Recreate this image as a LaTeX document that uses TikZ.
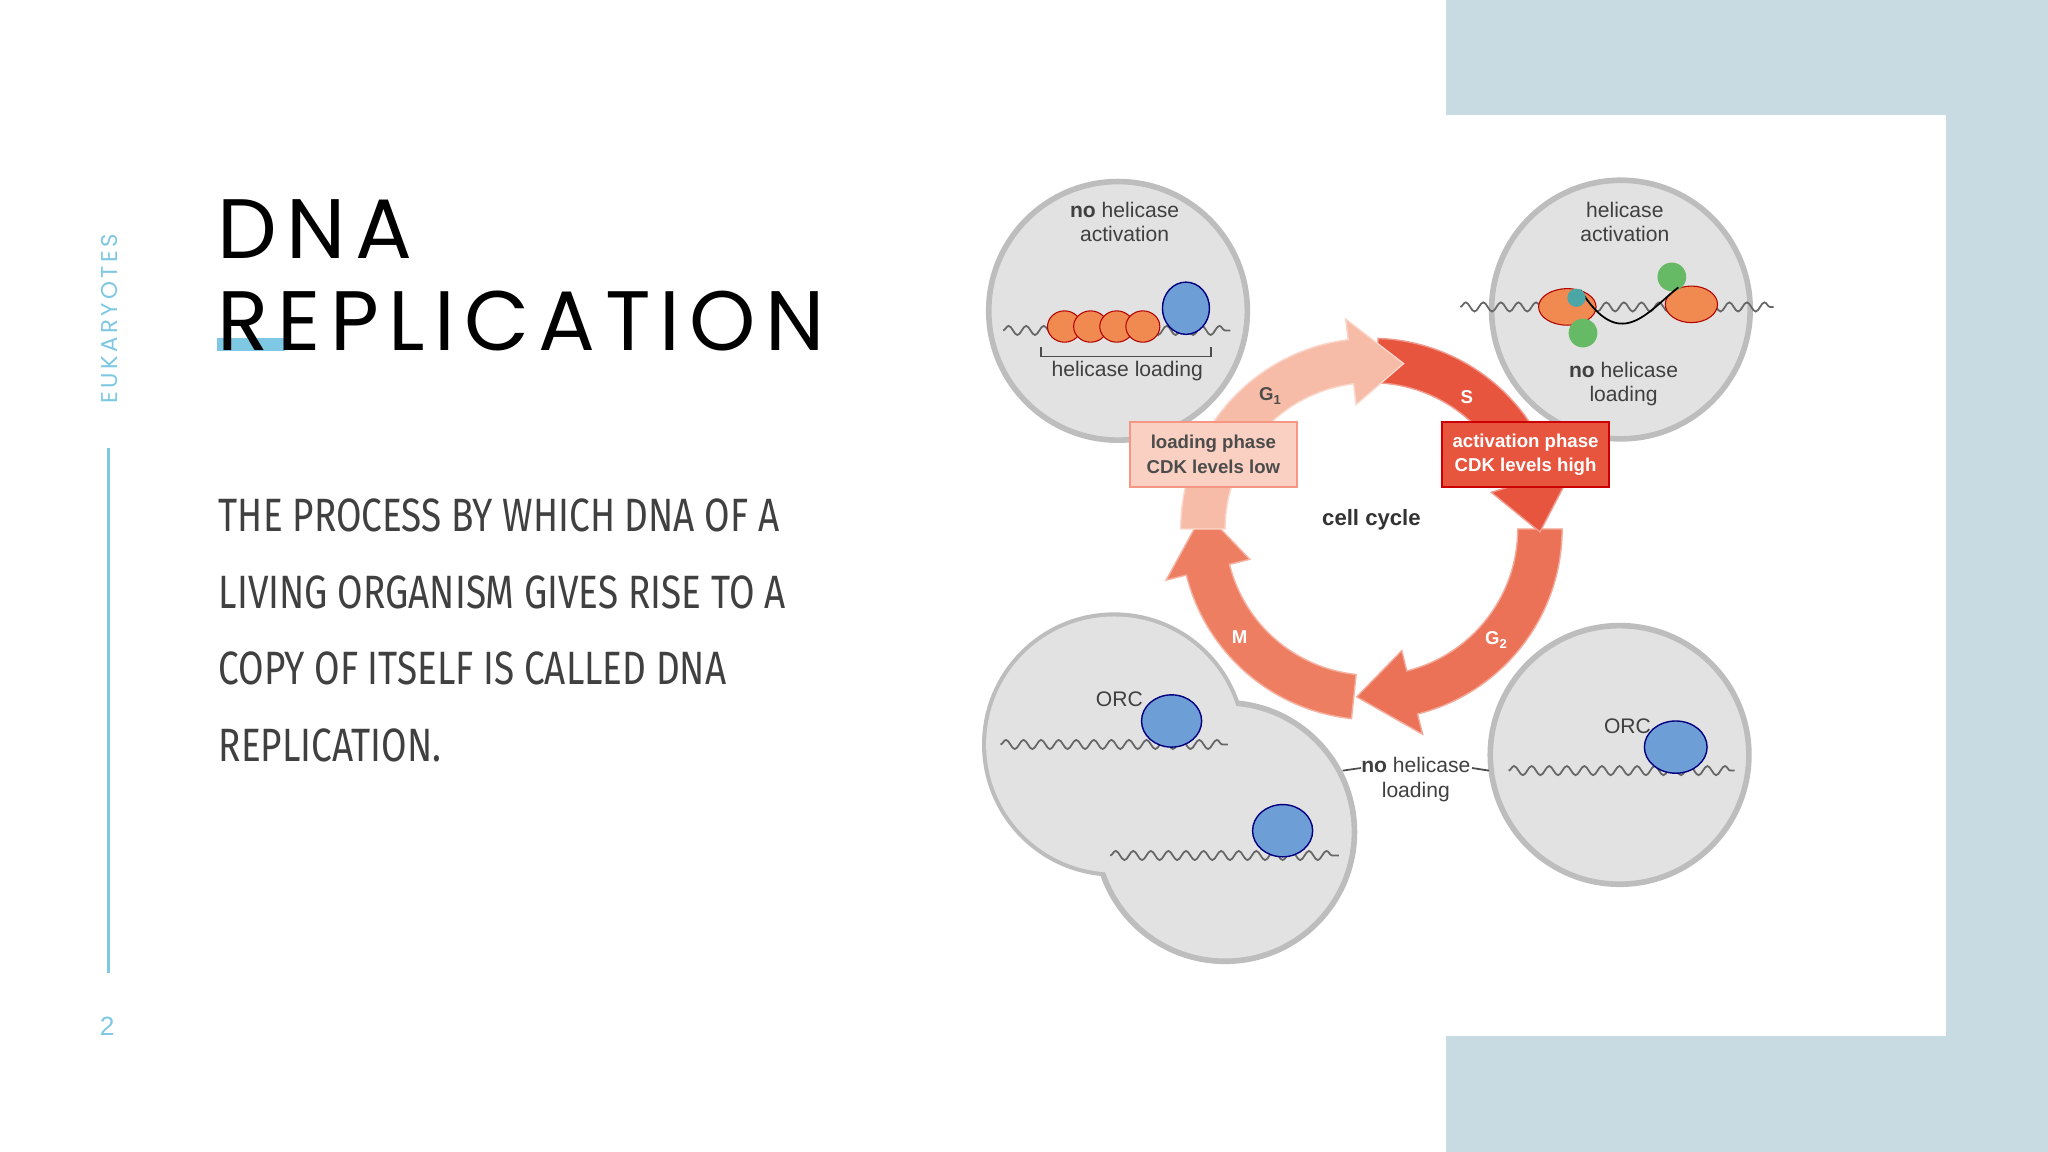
\documentclass[tikz,border=0pt]{standalone}
\usepackage{fontspec}
\setmainfont{Liberation Sans}
\newfontfamily\titlef[LetterSpace=11]{Poppins}
\newfontfamily\bodyf[FakeStretch=0.79]{Fira Sans}
\newfontfamily\sidef[LetterSpace=15]{Poppins}
\usetikzlibrary{calc,decorations.pathmorphing}
\definecolor{panel}{HTML}{C8DBE2}
\definecolor{accent}{HTML}{7EC8E3}
\definecolor{cgray}{HTML}{E2E2E2}
\definecolor{cedge}{HTML}{BDBDBD}
\definecolor{gone}{HTML}{F6BCA7}
\definecolor{sred}{HTML}{E8553F}
\definecolor{gtwo}{HTML}{EB7257}
\definecolor{mcol}{HTML}{EE7E62}
\definecolor{helic}{HTML}{F08A50}
\definecolor{orcb}{HTML}{6E9ED6}
\tikzset{
 bubble/.style={circle, fill=cgray, draw=cedge, line width=1.6pt, minimum size=198*0.013061cm, inner sep=0},
 lab/.style={font=\fontsize{6}{7}\selectfont, text=black!75, align=center, inner sep=0},
 dna/.style={decorate, decoration={snake, amplitude=1.3pt, segment length=5pt}, black!60, line width=0.5pt},
 heli/.style={fill=helic, draw=red!70!black, line width=0.3pt},
 orc/.style={fill=orcb, draw=blue!50!black, line width=0.4pt},
 phase/.style={inner sep=0, minimum width=128*0.013061cm, minimum height=50*0.013061cm, align=center, font=\bfseries\fontsize{5.3}{7}\selectfont},
 seglab/.style={font=\bfseries\fontsize{5.3}{6}\selectfont, inner sep=0}
}
\newcommand\ringarr[4]{%
 \fill[#1, draw=white!40!#1, line width=0.4pt] ($(cc)+(#2:146)$) arc[start angle=#2, end angle=#3, radius=146] -- ($(cc)+(#3:162)$) -- ($(cc)+(#4:129)$) -- ($(cc)+(#3:96)$) -- ($(cc)+(#3:112)$) arc[start angle=#3, end angle=#2, radius=112] -- cycle;}
\begin{document}
\begin{tikzpicture}[x=0.013061cm, y=-0.013061cm]
\useasboundingbox (0,0) rectangle (1568,882);
\fill[white] (0,0) rectangle (1568,882);
\fill[panel] (1107,0) rectangle (1568,882);
\fill[white] (1107,88) rectangle (1490,793);
% sidebar
\node[rotate=90, text=accent, font=\sidef\fontsize{6.5}{7}\selectfont] (side) at (84,244) {EUKARYOTES};
\draw[accent, line width=0.8pt] (83,343) -- (83,745);
\node[text=accent, font=\fontsize{7.5}{8}\selectfont] (pg) at (82,786) {2};
% title
\fill[accent] (166,259) rectangle (218,269);
\node[anchor=base west, inner sep=0, font=\titlef\fontsize{24}{26}\selectfont] (t1) at (166,198) {DNA};
\node[anchor=base west, inner sep=0, font=\titlef\fontsize{24}{26}\selectfont] (t2) at (166,268) {REPLICATION};
\foreach \i/\s in {0/{THE PROCESS BY WHICH DNA OF A},1/{LIVING ORGANISM GIVES RISE TO A},2/{COPY OF ITSELF IS CALLED DNA},3/{REPLICATION.}}
 \node[anchor=base west, inner sep=0, text=black!75, font=\bodyf\fontsize{13.3}{14}\selectfont] (b\i) at (167,407+58.7*\i) {\s};
% bubbles
\node[bubble] (c1) at (856,238) {};
\node[bubble] (c2) at (1241,237) {};
\node[bubble] (c3) at (853,570) {};
\node[bubble] (c4) at (938,637) {};
\node[bubble] (c5) at (1240,578) {};
\fill[cgray] (853,570) circle (98);
% cycle
\coordinate (cc) at (1050,405);
\ringarr{mcol}{96}{166}{186}
\ringarr{gtwo}{0}{76}{95}
\ringarr{sred}{272}{343}{361}
\ringarr{gone}{180}{263}{281}
\node[seglab, text=black!70] (g1) at (973,303) {G\textsubscript{1}};
\node[seglab, text=white] (s) at (1123,304) {S};
\node[seglab, text=white] (g2) at (1146,490) {G\textsubscript{2}};
\node[seglab, text=white] (m) at (949,488) {M};
\node[font=\bfseries\fontsize{6.3}{8}\selectfont, text=black!80] (cyc) at (1050,398) {cell cycle};
\node[phase, fill=gone!70!white, draw=gone!80!red, text=black!70] (lp) at (929,348) {loading phase\\CDK levels low};
\node[phase, fill=sred, draw=red!80!black, text=white] (ap) at (1168,348) {activation phase\\CDK levels high};
% top-left bubble content
\node[lab] (l1) at (861,170) {\textbf{no} helicase\\activation};
\draw[dna] (768,253) -- (942,253);
\foreach \x in {815,835,855,875} \draw[heli] (\x,250) ellipse (13 and 12);
\draw[orc] (908,236) ellipse (18 and 20);
\draw[black!70, line width=0.5pt] (797,266) -- (797,273) -- (927,273) -- (927,266);
\node[lab] (l2) at (863,284) {helicase loading};
% top-right
\node[lab] (l3) at (1244,170) {helicase\\activation};
\draw[dna] (1118,235) -- (1358,235);
\draw[heli] (1200,235) ellipse (22 and 14);
\draw[heli] (1295,233) ellipse (20 and 14);
\fill[green!55!black!60] (1212,255) circle (11);
\fill[green!55!black!60] (1280,212) circle (11);
\draw[black, line width=0.5pt] (1210,222) .. controls (1240,270) and (1260,240) .. (1285,220);
\fill[teal!70] (1207,228) circle (7);
\node[lab] (l4) at (1243,294) {\textbf{no} helicase\\loading};
% bottom-left
\node[lab] (o1) at (857,535) {ORC};
\draw[dna] (766,570) -- (940,570);
\draw[orc] (897,552) ellipse (23 and 20);
\draw[dna] (850,655) -- (1025,655);
\draw[orc] (982,636) ellipse (23 and 20);
% bottom-right
\node[lab] (o2) at (1246,556) {ORC};
\draw[dna] (1155,590) -- (1328,590);
\draw[orc] (1283,572) ellipse (24 and 20);
% middle label
\node[lab] (nh) at (1084,597) {\textbf{no} helicase\\loading};
\draw[black!70, line width=0.5pt] (1028,590) -- (1042,588);
\draw[black!70, line width=0.5pt] (1127,588) -- (1140,590);
\end{tikzpicture}
\end{document}
